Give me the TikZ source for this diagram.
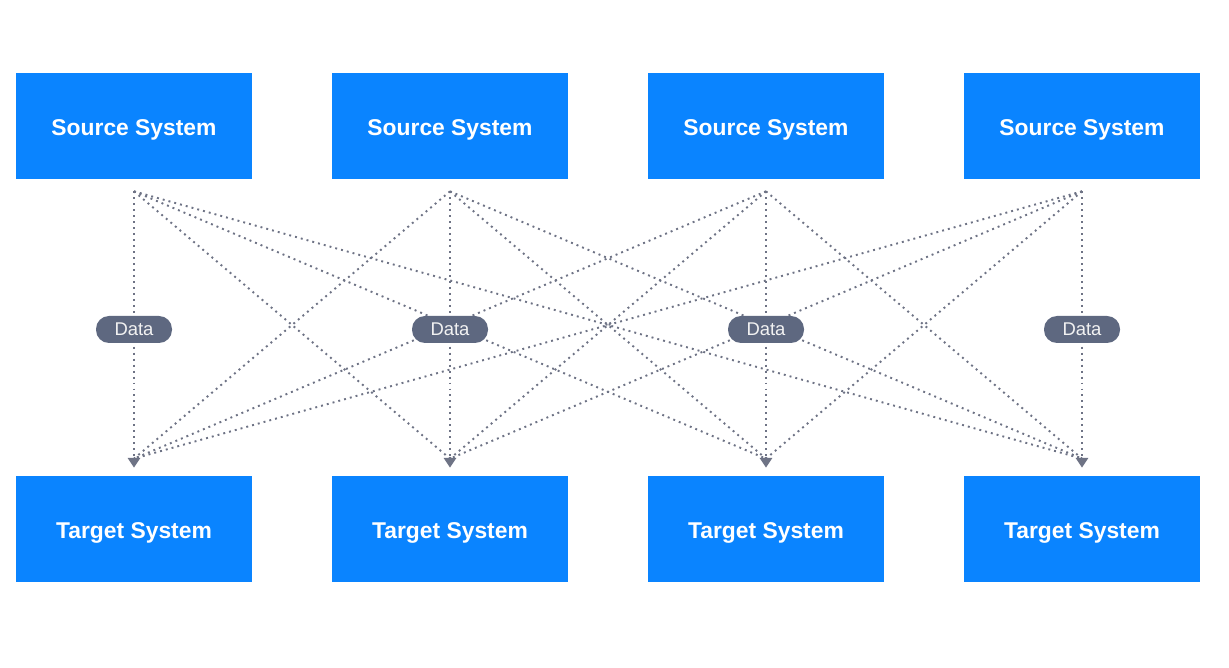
\documentclass[tikz,border=0pt]{standalone}
\usepackage{fontspec}
\setmainfont{Liberation Sans}
\usetikzlibrary{arrows.meta, calc}

\definecolor{sysblue}{HTML}{0A84FF}
\definecolor{linkgray}{HTML}{6E7385}
\definecolor{pillgray}{HTML}{5E6880}

\tikzset{
  sysbox/.style={fill=sysblue, minimum width=4.72cm, minimum height=2.12cm,
    text=white, text height=10.6pt, text depth=0pt,
    font=\fontsize{13}{15}\selectfont\bfseries},
  link/.style={draw=linkgray, line width=1.1pt, dash pattern=on 1.1pt off 2.3pt},
  datapill/.style={fill=pillgray, rounded corners=0.26cm, minimum width=1.52cm,
    minimum height=0.54cm, inner sep=0pt, text=white!90!gray,
    font=\fontsize{10.5}{12}\selectfont},
}

\begin{document}
\begin{tikzpicture}
  \useasboundingbox (0, 0) rectangle (24.58, 13.36);

  \foreach \i/\x in {1/2.68, 2/9.0, 3/15.32, 4/21.64} {
    \node [sysbox] (src\i) at (\x, 10.84) {Source System};
    \node [sysbox] (tgt\i) at (\x, 2.78) {Target System};
    \coordinate (s\i) at ([yshift=-0.24cm]src\i.south);
    \coordinate (t\i) at ([yshift=0.16cm]tgt\i.north);
    \coordinate (e\i) at ([yshift=0.18cm]t\i);
  }

  % every source feeds every target
  \foreach \i in {1, 2, 3, 4} {
    \foreach \j in {1, 2, 3, 4} {
      \ifnum\i=\j\else
        \draw [link] (s\i) -- (e\j);
      \fi
    }
  }

  \foreach \i in {1, 2, 3, 4} {
    \draw [link, -{Triangle[width=7pt, length=5.5pt]}] (s\i) -- (t\i);
    \node [datapill] (data\i) at ($(s\i)!0.5!(t\i)$) {Data};
  }
\end{tikzpicture}
\end{document}
